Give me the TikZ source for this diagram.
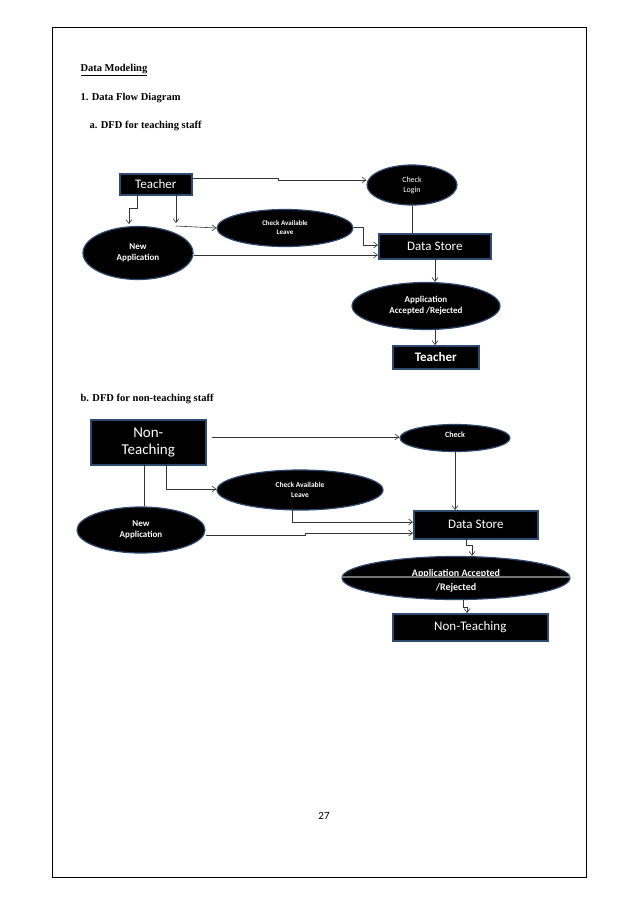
\documentclass[tikz,border=0pt]{standalone}
\usepackage{fontspec}
\setmainfont{Liberation Serif}
\newfontfamily\carl{Carlito}
\usetikzlibrary{shapes.geometric,arrows.meta}
\definecolor{bord}{HTML}{2F4A70}
\tikzset{
 x=1pt,y=-1pt,
 boxn/.style={draw=bord,line width=1.6pt,fill=black,text=white,font=\carl,inner sep=0pt,anchor=north west},
 ell/.style={ellipse,draw=bord,line width=1.2pt,fill=black,text=white,font=\carl\bfseries,inner sep=0pt,align=center},
 con/.style={draw=black!80,line width=0.6pt},
 arr/.style={con,-{Straight Barb[length=4pt,width=6pt]}},
 hd/.style={font=\bfseries\fontsize{10.5}{12}\selectfont,anchor=west}
}
\begin{document}
\begin{tikzpicture}
\useasboundingbox (0,0) rectangle (638,903);
\fill[white] (0,0) rectangle (638,903);
\draw[line width=0.6pt] (52,27) rectangle (586,877);
\node[hd] (h1) at (77,70) {\underline{Data Modeling}};
\node[hd] (h2) at (77,98) {1. Data Flow Diagram};
\node[hd] (h3) at (86,126) {a. DFD for teaching staff};
\node[hd] (h4) at (77,399) {b. DFD for non-teaching staff};
\node[font=\carl\fontsize{11}{12}\selectfont] (pg) at (324,816) {27};

% ---- teaching
\node[boxn,minimum width=72,minimum height=21,font=\carl\fontsize{13}{14}\selectfont] (t1) at (119,173) {Teacher};
\node[ell,minimum width=90,minimum height=40,font=\carl\fontsize{8}{10}\selectfont] (cl) at (412,185) {Check\\Login};
\node[ell,minimum width=136,minimum height=37,font=\carl\bfseries\fontsize{7}{9}\selectfont] (cal) at (285,228) {Check Available\\Leave};
\node[ell,minimum width=110,minimum height=53,font=\carl\bfseries\fontsize{9}{11}\selectfont] (na) at (138,253) {New\\Application};
\node[boxn,minimum width=112,minimum height=25,font=\carl\fontsize{13}{14}\selectfont] (ds) at (378,233) {Data Store};
\node[ell,minimum width=148,minimum height=47,font=\carl\bfseries\fontsize{9}{11}\selectfont] (aa) at (426,306) {Application\\Accepted /Rejected};
\node[boxn,minimum width=86,minimum height=23,font=\carl\bfseries\fontsize{13}{14}\selectfont] (t2) at (392,345) {Teacher};

\draw[arr] (t1.east|-0,178) -- (278,178) -- (278,180) -- (cl.west|-0,180);
\draw[arr] (137,194) -- (137,208) -- (129,208) -- (129,224);
\draw[arr] (176,194) -- (176,223);
\draw[arr] (176,226) -- (cal.west|-0,228);
\draw[arr] (cal.east|-0,227) -- (363,227) -- (363,245) -- (ds.west|-0,245);
\draw[arr] (na.east|-0,255) -- (ds.west|-0,255);
\draw[con] (cl.south) -- (ds.north-|cl.south);
\draw[arr] (435,258) -- (aa.north-|435,0);
\draw[arr] (aa.south-|435,0) -- (t2.north-|435,0);

% ---- non-teaching
\node[boxn,minimum width=115,minimum height=45,align=center,font=\carl\fontsize{15}{17}\selectfont] (n1) at (90,419) {Non-\\Teaching};
\node[ell,minimum width=110,minimum height=27,font=\carl\bfseries\fontsize{8}{10}\selectfont] (ck) at (455,438) {Check\\[-3pt]\vphantom{x}};
\node[ell,minimum width=166,minimum height=40,font=\carl\bfseries\fontsize{7.5}{10}\selectfont] (cal2) at (300,490) {Check Available\\Leave};
\node[ell,minimum width=128,minimum height=46,font=\carl\bfseries\fontsize{9}{11}\selectfont] (na2) at (141,530) {New\\Application};
\node[boxn,minimum width=124,minimum height=28,font=\carl\fontsize{13}{14}\selectfont] (ds2) at (413,510) {Data Store};
\node[ell,minimum width=228,minimum height=43] (aa2) at (456,578) {};
\begin{scope}
\clip (300,555) rectangle (600,575);
\node[text=white,font=\carl\bfseries\fontsize{10}{12}\selectfont] (aat) at (456,574) {Application Accepted};
\end{scope}
\draw[black!55,line width=2pt] (342,577) -- (570,577);
\node[text=white,font=\carl\bfseries\fontsize{10}{12}\selectfont] (aab) at (456,588) {/Rejected};
\node[boxn,minimum width=155,minimum height=27,font=\carl\fontsize{13}{14}\selectfont] (n2) at (392,613) {Non-Teaching};

\draw[arr] (212,437) -- (ck.west|-0,437);
\draw[arr] (166,464) -- (166,489) -- (cal2.west|-0,489);
\draw[con] (144,464) -- (na2.north-|144,0);
\draw[arr] (292,508) -- (292,522) -- (ds2.west|-0,522);
\draw[arr] (na2.east|-0,535) -- (305,535) -- (305,533) -- (ds2.west|-0,533);
\draw[arr] (ck.south) -- (ds2.north-|ck.south);
\draw[arr] (466,538) -- (466,545) -- (472,545) -- (aa2.north-|472,0);
\draw[arr] (463,600) -- (463,607) -- (467,607) -- (n2.north-|467,0);
\end{tikzpicture}
\end{document}
